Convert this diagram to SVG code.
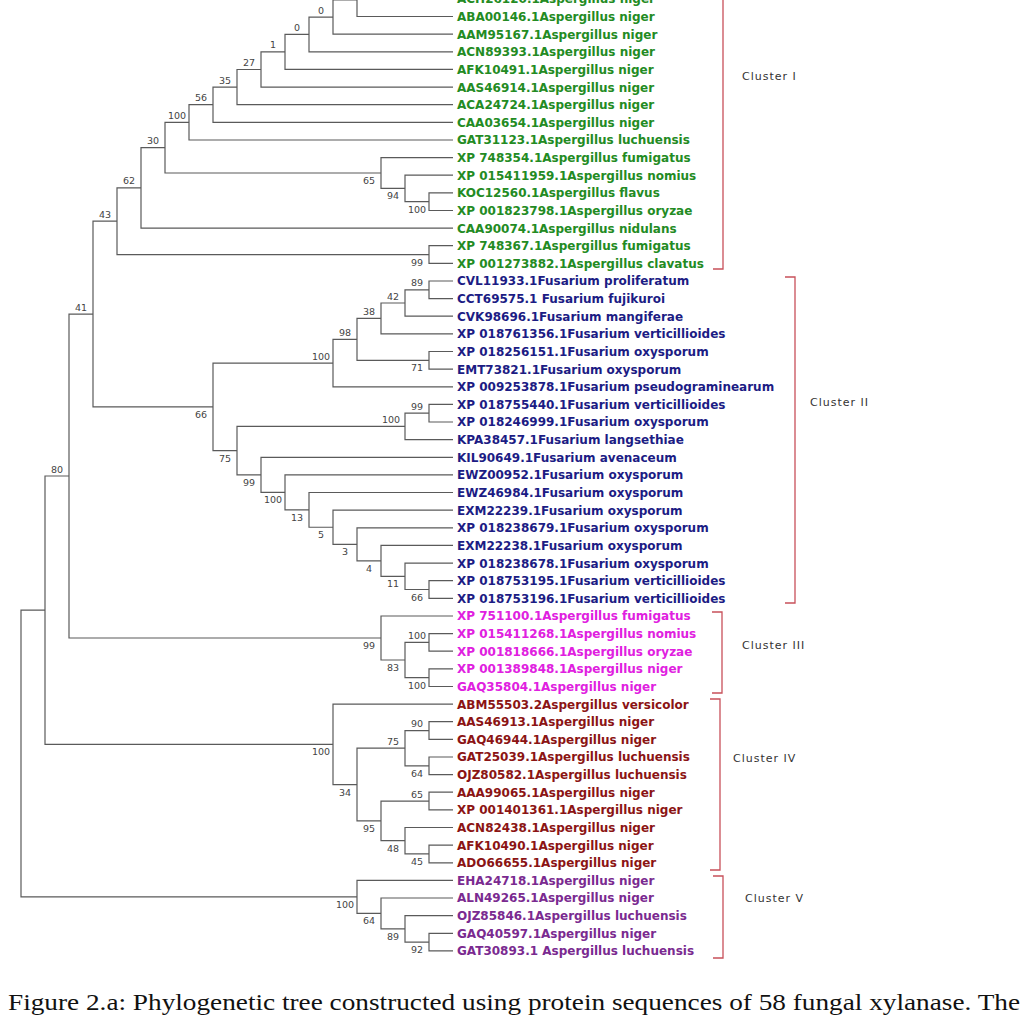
<svg xmlns="http://www.w3.org/2000/svg" width="1024" height="1024" viewBox="0 0 1024 1024">
<style>
.br{fill:none;stroke:#5a5a5a;stroke-width:1.2}
.bk{fill:none;stroke:#c8505a;stroke-width:1.3}
.lf{font-family:"DejaVu Sans","Liberation Sans",sans-serif;font-weight:bold;font-size:12px}
.c1{fill:#238b23}.c2{fill:#1c1c84}.c3{fill:#e020e0}.c4{fill:#8b1414}.c5{fill:#7a2a90}
.bs{font-family:"DejaVu Sans","Liberation Sans",sans-serif;font-size:9.5px;fill:#444;text-anchor:middle}
.cl{font-family:"DejaVu Sans","Liberation Sans",sans-serif;font-size:11px;letter-spacing:1px;fill:#333}
.cap{font-family:"Liberation Serif","Times New Roman",serif;font-size:23px;fill:#111}
</style>
<rect width="1024" height="1024" fill="#fff"/>
<g id="connectors">
<path class="br" d="M453 -1.1 H381 V-40"/>
<path class="br" d="M381 -16.5 H357 V16.5 H453"/>
<path class="br" d="M357 0 H333 V34.2 H453"/>
<path class="br" d="M333 17.1 H309 V51.8 H453"/>
<path class="br" d="M309 34.45 H285 V69.4 H453"/>
<path class="br" d="M285 51.9 H261 V87.1 H453"/>
<path class="br" d="M261 69.5 H237 V104.7 H453"/>
<path class="br" d="M237 87.1 H213 V122.3 H453"/>
<path class="br" d="M213 104.7 H189 V140 H453"/>
<path class="br" d="M453 192.8 H429 V210.5 H453"/>
<path class="br" d="M453 175.2 H405 V201.65 H429"/>
<path class="br" d="M453 157.6 H381 V188.4 H405"/>
<path class="br" d="M189 122.35 H165 V173 H381"/>
<path class="br" d="M165 147.7 H141 V228.1 H453"/>
<path class="br" d="M453 245.7 H429 V263.4 H453"/>
<path class="br" d="M141 187.9 H117 V254.55 H429"/>
<path class="br" d="M453 281 H429 V298.6 H453"/>
<path class="br" d="M429 289.8 H405 V316.2 H453"/>
<path class="br" d="M405 303 H381 V333.9 H453"/>
<path class="br" d="M453 351.5 H429 V369.1 H453"/>
<path class="br" d="M381 318.45 H357 V360.3 H429"/>
<path class="br" d="M357 339.4 H333 V386.8 H453"/>
<path class="br" d="M453 404.4 H429 V422 H453"/>
<path class="br" d="M429 413.2 H405 V439.7 H453"/>
<path class="br" d="M453 580.7 H429 V598.3 H453"/>
<path class="br" d="M453 563.1 H405 V589.5 H429"/>
<path class="br" d="M453 545.4 H381 V576.3 H405"/>
<path class="br" d="M453 527.8 H357 V560.85 H381"/>
<path class="br" d="M453 510.2 H333 V544.3 H357"/>
<path class="br" d="M453 492.5 H309 V527.25 H333"/>
<path class="br" d="M453 474.9 H285 V509.9 H309"/>
<path class="br" d="M453 457.3 H261 V492.4 H285"/>
<path class="br" d="M405 426.45 H237 V474.85 H261"/>
<path class="br" d="M333 363.1 H213 V450.65 H237"/>
<path class="br" d="M117 221.2 H93 V406.9 H213"/>
<path class="br" d="M453 633.6 H429 V651.2 H453"/>
<path class="br" d="M453 668.8 H429 V686.5 H453"/>
<path class="br" d="M429 642.4 H405 V677.65 H429"/>
<path class="br" d="M453 616 H381 V660 H405"/>
<path class="br" d="M93 314.05 H69 V638 H381"/>
<path class="br" d="M453 721.7 H429 V739.4 H453"/>
<path class="br" d="M453 757 H429 V774.6 H453"/>
<path class="br" d="M429 730.55 H405 V765.8 H429"/>
<path class="br" d="M453 792.2 H429 V809.9 H453"/>
<path class="br" d="M453 845.1 H429 V862.8 H453"/>
<path class="br" d="M453 827.5 H405 V853.95 H429"/>
<path class="br" d="M429 801.05 H381 V840.7 H405"/>
<path class="br" d="M405 748.2 H357 V820.9 H381"/>
<path class="br" d="M453 704.1 H333 V784.55 H357"/>
<path class="br" d="M69 476 H45 V744.3 H333"/>
<path class="br" d="M453 933.3 H429 V950.9 H453"/>
<path class="br" d="M453 915.7 H405 V942.1 H429"/>
<path class="br" d="M453 898 H381 V928.9 H405"/>
<path class="br" d="M453 880.4 H357 V913.45 H381"/>
<path class="br" d="M45 610.15 H21 V896.9 H357"/>
</g>
<g id="bootstrap-labels">
<text class="bs" x="321" y="13.6">0</text>
<text class="bs" x="297" y="31">0</text>
<text class="bs" x="273" y="48.4">1</text>
<text class="bs" x="249" y="66">27</text>
<text class="bs" x="225" y="83.6">35</text>
<text class="bs" x="201" y="101.2">56</text>
<text class="bs" x="177" y="118.9">100</text>
<text class="bs" x="153" y="144.2">30</text>
<text class="bs" x="129" y="184.4">62</text>
<text class="bs" x="105" y="217.7">43</text>
<text class="bs" x="81" y="310.6">41</text>
<text class="bs" x="369" y="184">65</text>
<text class="bs" x="393" y="199.4">94</text>
<text class="bs" x="417" y="212.7">100</text>
<text class="bs" x="417" y="265.6">99</text>
<text class="bs" x="417" y="286.3">89</text>
<text class="bs" x="393" y="299.5">42</text>
<text class="bs" x="369" y="315">38</text>
<text class="bs" x="345" y="335.9">98</text>
<text class="bs" x="321" y="359.6">100</text>
<text class="bs" x="417" y="371.3">71</text>
<text class="bs" x="417" y="409.7">99</text>
<text class="bs" x="391" y="423">100</text>
<text class="bs" x="201" y="417.9">66</text>
<text class="bs" x="225" y="461.7">75</text>
<text class="bs" x="249" y="485.9">99</text>
<text class="bs" x="273" y="503.4">100</text>
<text class="bs" x="297" y="520.9">13</text>
<text class="bs" x="321" y="538.3">5</text>
<text class="bs" x="345" y="555.3">3</text>
<text class="bs" x="369" y="571.9">4</text>
<text class="bs" x="393" y="587.3">11</text>
<text class="bs" x="417" y="600.5">66</text>
<text class="bs" x="57" y="472.5">80</text>
<text class="bs" x="369" y="649">99</text>
<text class="bs" x="417" y="638.9">100</text>
<text class="bs" x="393" y="671">83</text>
<text class="bs" x="417" y="688.7">100</text>
<text class="bs" x="321" y="755.3">100</text>
<text class="bs" x="417" y="727">90</text>
<text class="bs" x="393" y="744.7">75</text>
<text class="bs" x="417" y="776.8">64</text>
<text class="bs" x="345" y="795.5">34</text>
<text class="bs" x="417" y="797.5">65</text>
<text class="bs" x="369" y="831.9">95</text>
<text class="bs" x="393" y="851.7">48</text>
<text class="bs" x="417" y="865">45</text>
<text class="bs" x="345" y="907.9">100</text>
<text class="bs" x="369" y="924.4">64</text>
<text class="bs" x="393" y="939.9">89</text>
<text class="bs" x="417" y="953.1">92</text>
</g>
<g id="cluster-I">
<g id="leaf-0"><text class="lf c1" x="457" y="3.3">ACH26120.1Aspergillus niger</text></g>
<g id="leaf-1"><text class="lf c1" x="457" y="20.9">ABA00146.1Aspergillus niger</text></g>
<g id="leaf-2"><text class="lf c1" x="457" y="38.6">AAM95167.1Aspergillus niger</text></g>
<g id="leaf-3"><text class="lf c1" x="457" y="56.2">ACN89393.1Aspergillus niger</text></g>
<g id="leaf-4"><text class="lf c1" x="457" y="73.8">AFK10491.1Aspergillus niger</text></g>
<g id="leaf-5"><text class="lf c1" x="457" y="91.5">AAS46914.1Aspergillus niger</text></g>
<g id="leaf-6"><text class="lf c1" x="457" y="109.1">ACA24724.1Aspergillus niger</text></g>
<g id="leaf-7"><text class="lf c1" x="457" y="126.7">CAA03654.1Aspergillus niger</text></g>
<g id="leaf-8"><text class="lf c1" x="457" y="144.4">GAT31123.1Aspergillus luchuensis</text></g>
<g id="leaf-9"><text class="lf c1" x="457" y="162">XP 748354.1Aspergillus fumigatus</text></g>
<g id="leaf-10"><text class="lf c1" x="457" y="179.6">XP 015411959.1Aspergillus nomius</text></g>
<g id="leaf-11"><text class="lf c1" x="457" y="197.2">KOC12560.1Aspergillus flavus</text></g>
<g id="leaf-12"><text class="lf c1" x="457" y="214.9">XP 001823798.1Aspergillus oryzae</text></g>
<g id="leaf-13"><text class="lf c1" x="457" y="232.5">CAA90074.1Aspergillus nidulans</text></g>
<g id="leaf-14"><text class="lf c1" x="457" y="250.1">XP 748367.1Aspergillus fumigatus</text></g>
<g id="leaf-15"><text class="lf c1" x="457" y="267.8">XP 001273882.1Aspergillus clavatus</text></g>
</g>
<g id="cluster-II">
<g id="leaf-16"><text class="lf c2" x="457" y="285.4">CVL11933.1Fusarium proliferatum</text></g>
<g id="leaf-17"><text class="lf c2" x="457" y="303">CCT69575.1 Fusarium fujikuroi</text></g>
<g id="leaf-18"><text class="lf c2" x="457" y="320.6">CVK98696.1Fusarium mangiferae</text></g>
<g id="leaf-19"><text class="lf c2" x="457" y="338.3">XP 018761356.1Fusarium verticillioides</text></g>
<g id="leaf-20"><text class="lf c2" x="457" y="355.9">XP 018256151.1Fusarium oxysporum</text></g>
<g id="leaf-21"><text class="lf c2" x="457" y="373.5">EMT73821.1Fusarium oxysporum</text></g>
<g id="leaf-22"><text class="lf c2" x="457" y="391.2">XP 009253878.1Fusarium pseudograminearum</text></g>
<g id="leaf-23"><text class="lf c2" x="457" y="408.8">XP 018755440.1Fusarium verticillioides</text></g>
<g id="leaf-24"><text class="lf c2" x="457" y="426.4">XP 018246999.1Fusarium oxysporum</text></g>
<g id="leaf-25"><text class="lf c2" x="457" y="444.1">KPA38457.1Fusarium langsethiae</text></g>
<g id="leaf-26"><text class="lf c2" x="457" y="461.7">KIL90649.1Fusarium avenaceum</text></g>
<g id="leaf-27"><text class="lf c2" x="457" y="479.3">EWZ00952.1Fusarium oxysporum</text></g>
<g id="leaf-28"><text class="lf c2" x="457" y="496.9">EWZ46984.1Fusarium oxysporum</text></g>
<g id="leaf-29"><text class="lf c2" x="457" y="514.6">EXM22239.1Fusarium oxysporum</text></g>
<g id="leaf-30"><text class="lf c2" x="457" y="532.2">XP 018238679.1Fusarium oxysporum</text></g>
<g id="leaf-31"><text class="lf c2" x="457" y="549.8">EXM22238.1Fusarium oxysporum</text></g>
<g id="leaf-32"><text class="lf c2" x="457" y="567.5">XP 018238678.1Fusarium oxysporum</text></g>
<g id="leaf-33"><text class="lf c2" x="457" y="585.1">XP 018753195.1Fusarium verticillioides</text></g>
<g id="leaf-34"><text class="lf c2" x="457" y="602.7">XP 018753196.1Fusarium verticillioides</text></g>
</g>
<g id="cluster-III">
<g id="leaf-35"><text class="lf c3" x="457" y="620.4">XP 751100.1Aspergillus fumigatus</text></g>
<g id="leaf-36"><text class="lf c3" x="457" y="638">XP 015411268.1Aspergillus nomius</text></g>
<g id="leaf-37"><text class="lf c3" x="457" y="655.6">XP 001818666.1Aspergillus oryzae</text></g>
<g id="leaf-38"><text class="lf c3" x="457" y="673.2">XP 001389848.1Aspergillus niger</text></g>
<g id="leaf-39"><text class="lf c3" x="457" y="690.9">GAQ35804.1Aspergillus niger</text></g>
</g>
<g id="cluster-IV">
<g id="leaf-40"><text class="lf c4" x="457" y="708.5">ABM55503.2Aspergillus versicolor</text></g>
<g id="leaf-41"><text class="lf c4" x="457" y="726.1">AAS46913.1Aspergillus niger</text></g>
<g id="leaf-42"><text class="lf c4" x="457" y="743.8">GAQ46944.1Aspergillus niger</text></g>
<g id="leaf-43"><text class="lf c4" x="457" y="761.4">GAT25039.1Aspergillus luchuensis</text></g>
<g id="leaf-44"><text class="lf c4" x="457" y="779">OJZ80582.1Aspergillus luchuensis</text></g>
<g id="leaf-45"><text class="lf c4" x="457" y="796.6">AAA99065.1Aspergillus niger</text></g>
<g id="leaf-46"><text class="lf c4" x="457" y="814.3">XP 001401361.1Aspergillus niger</text></g>
<g id="leaf-47"><text class="lf c4" x="457" y="831.9">ACN82438.1Aspergillus niger</text></g>
<g id="leaf-48"><text class="lf c4" x="457" y="849.5">AFK10490.1Aspergillus niger</text></g>
<g id="leaf-49"><text class="lf c4" x="457" y="867.2">ADO66655.1Aspergillus niger</text></g>
</g>
<g id="cluster-V">
<g id="leaf-50"><text class="lf c5" x="457" y="884.8">EHA24718.1Aspergillus niger</text></g>
<g id="leaf-51"><text class="lf c5" x="457" y="902.4">ALN49265.1Aspergillus niger</text></g>
<g id="leaf-52"><text class="lf c5" x="457" y="920.1">OJZ85846.1Aspergillus luchuensis</text></g>
<g id="leaf-53"><text class="lf c5" x="457" y="937.7">GAQ40597.1Aspergillus niger</text></g>
<g id="leaf-54"><text class="lf c5" x="457" y="955.3">GAT30893.1 Aspergillus luchuensis</text></g>
</g>
<g id="cluster-brackets">
<path class="bk" d="M723 -5 V269 H713"/>
<path class="bk" d="M785 277 H795 V603 H785"/>
<path class="bk" d="M712 612 H722 V693 H712"/>
<path class="bk" d="M710 699 H720 V870 H710"/>
<path class="bk" d="M713 876 H723 V958 H713"/>
<text class="cl" x="742" y="80">Cluster I</text>
<text class="cl" x="810" y="406">Cluster II</text>
<text class="cl" x="742" y="649">Cluster III</text>
<text class="cl" x="733" y="762">Cluster IV</text>
<text class="cl" x="745" y="902">Cluster V</text>
</g>
<text class="cap" x="8" y="1010" textLength="1012" lengthAdjust="spacingAndGlyphs">Figure 2.a: Phylogenetic tree constructed using protein sequences of 58 fungal xylanase. The</text>
</svg>
